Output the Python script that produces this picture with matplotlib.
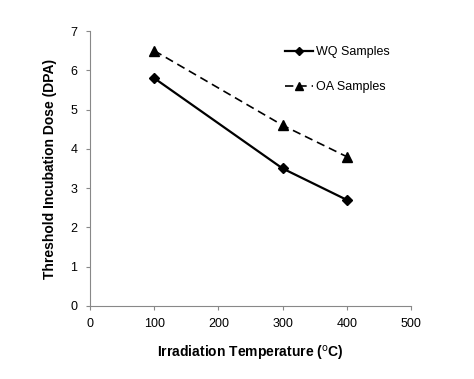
import matplotlib
matplotlib.use("Agg")
import matplotlib.pyplot as plt

plt.rcParams['font.family'] = ['Liberation Sans', 'DejaVu Sans']

temps = [100, 300, 400]
wq_dose = [5.8, 3.5, 2.7]
oa_dose = [6.5, 4.6, 3.8]

fig = plt.figure(figsize=(4.74, 3.79), dpi=100)
ax = fig.add_axes([0.19, 0.193, 0.677, 0.725])

ax.plot(temps, wq_dose, color="black", lw=1.6, marker="D", ms=5.5,
        label="WQ Samples")
ax.plot(temps, oa_dose, color="black", lw=1.2, ls=(0, (5, 3)), marker="^",
        ms=7, label="OA Samples")

ax.set_xlim(0, 500)
ax.set_ylim(0, 7)
ax.set_xticks(range(0, 501, 100))
ax.set_yticks(range(0, 8))
ax.spines["top"].set_visible(False)
ax.spines["right"].set_visible(False)
for s in ("left", "bottom"):
    ax.spines[s].set_color("#888888")
    ax.spines[s].set_linewidth(0.8)
ax.tick_params(direction="out", length=3, width=0.8, color="#888888",
               labelsize=9, pad=6)

ax.set_xlabel("Irradiation Temperature ($^{\\mathrm{o}}$C)", fontsize=10,
              fontweight="bold", labelpad=10)
ax.set_ylabel("Threshold Incubation Dose (DPA)", fontsize=10,
              fontweight="bold", labelpad=10)

ax.legend(loc="upper right", bbox_to_anchor=(0.97, 0.985), frameon=False,
          fontsize=9, handlelength=2.2, handletextpad=0.3,
          labelspacing=1.8, markerscale=0.8)

fig.savefig("out.png", dpi=100)
